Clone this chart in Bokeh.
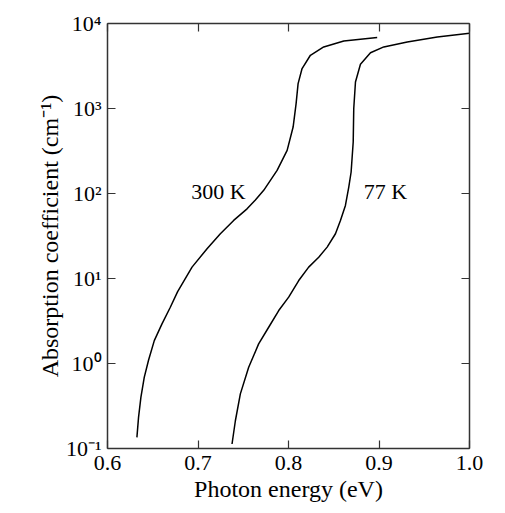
from bokeh.plotting import figure
from bokeh.models import LinearAxis, LogAxis, FixedTicker, CustomJSTickFormatter, PrintfTickFormatter, Range1d
from bokeh.core.properties import value
from bokeh.embed import file_html
from bokeh.resources import INLINE

# absorption curves (photon energy in eV, alpha in cm^-1)
energy_300k = [0.6325, 0.6343, 0.6369, 0.6406, 0.6454, 0.6517, 0.6602, 0.6694, 0.6775,
               0.6934, 0.7100, 0.7247, 0.7394, 0.7542, 0.7634, 0.7726, 0.7874, 0.7985,
               0.8051, 0.8084, 0.8106, 0.8150, 0.8242, 0.8389, 0.8611, 0.8980]
alpha_300k = [0.135, 0.232, 0.40, 0.687, 1.10, 1.86, 2.93, 4.59, 7.0,
              13.6, 22.4, 33.6, 48.2, 66, 84, 109, 187, 322,
              605, 1140, 1960, 2950, 4230, 5300, 6240, 6840]

energy_77k = [0.7376, 0.7413, 0.7468, 0.7560, 0.7670, 0.7781, 0.7892, 0.8002, 0.8113,
              0.8223, 0.8334, 0.8427, 0.8519, 0.8574, 0.8629, 0.8666, 0.8692, 0.8715,
              0.8721, 0.8740, 0.8795, 0.8906, 0.9053, 0.9312, 0.9644, 1.0]
alpha_77k = [0.113, 0.212, 0.439, 0.902, 1.70, 2.67, 4.20, 6.03, 9.46,
             13.6, 17.8, 23.4, 33.6, 48, 72.4, 119, 179, 403,
             998, 2050, 3320, 4530, 5300, 6070, 6950, 7700]

x_ticks = [0.6, 0.7, 0.8, 0.9, 1.0]
y_ticks = [0.1, 1, 10, 100, 1000, 10000]

labels = ["300 K", "77 K"]

FONT = "Liberation Serif"

p = figure(frame_width=362, frame_height=425, y_axis_type="log",
           x_range=Range1d(0.6, 1.0), y_range=Range1d(0.1, 10000),
           output_backend="svg", toolbar_location=None,
           min_border_left=107, min_border_top=23, min_border_right=28, min_border_bottom=40)
p.outline_line_color = None
p.xgrid.visible = False
p.ygrid.visible = False
p.background_fill_color = "white"

p.line(energy_300k, alpha_300k, line_color="black", line_width=1.5, line_join="round")
p.line(energy_77k, alpha_77k, line_color="black", line_width=1.5, line_join="round")

p.text(x=[0.7225, 0.907], y=[106, 106], text=labels, text_align="center",
       text_baseline="middle", text_font=value(FONT), text_font_size="22px",
       text_color="black")

sup_formatter = CustomJSTickFormatter(code="""
    const sup = {"-": "\u207b", "0": "\u2070", "1": "\u00b9", "2": "\u00b2",
                 "3": "\u00b3", "4": "\u2074"};
    const e = Math.round(Math.log10(tick));
    return "10" + String(e).split("").map(c => sup[c]).join("");
""")
blank = CustomJSTickFormatter(code="return ''")

# bottom and left axes
xax = p.xaxis[0]
xax.ticker = FixedTicker(ticks=x_ticks)
xax.formatter = PrintfTickFormatter(format="%.1f")
xax.axis_label = "Photon energy (eV)"
yax = p.yaxis[0]
yax.ticker = FixedTicker(ticks=y_ticks)
yax.formatter = sup_formatter
yax.axis_label = "Absorption coefficient (cm\u207b\u00b9)"

# mirrored ticks on top and right
top = LinearAxis(ticker=FixedTicker(ticks=x_ticks), formatter=blank)
right = LogAxis(ticker=FixedTicker(ticks=y_ticks), formatter=blank)
p.add_layout(top, "above")
p.add_layout(right, "right")

for ax in [xax, yax, top, right]:
    ax.axis_line_color = "#333333"
    ax.axis_line_width = 1.5
    ax.major_tick_line_color = "#333333"
    ax.major_tick_line_width = 1.2
    ax.major_tick_in = 8
    ax.major_tick_out = 0
    ax.minor_tick_line_color = None
    ax.major_label_text_font = FONT
    ax.major_label_text_color = "black"
    ax.axis_label_text_font = FONT
    ax.axis_label_text_font_style = "normal"
    ax.axis_label_text_color = "black"

xax.major_label_text_font_size = "22px"
yax.major_label_text_font_size = "22px"
xax.axis_label_text_font_size = "24px"
yax.axis_label_text_font_size = "24px"
xax.major_label_standoff = 7
yax.major_label_standoff = 6
xax.axis_label_standoff = 3
yax.axis_label_standoff = 0
top.major_label_standoff = 0
right.major_label_standoff = 0

open("out.html", "w").write(file_html(p, INLINE))
